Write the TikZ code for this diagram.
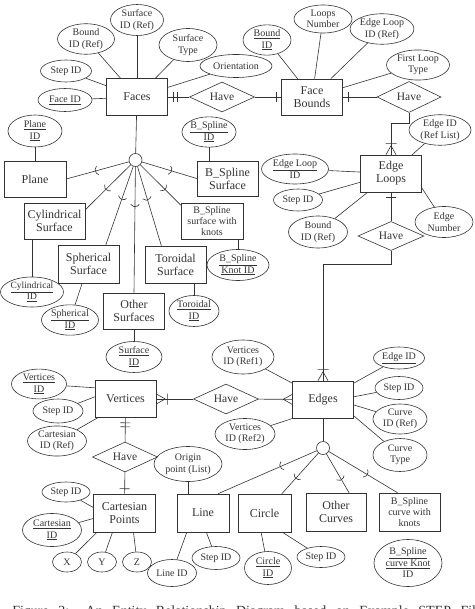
\documentclass[tikz,border=0pt]{standalone}
\usepackage{fontspec}
\setmainfont{Liberation Serif}
\usetikzlibrary{shapes.geometric,decorations.markings}

\begin{document}
\begin{tikzpicture}[x=1pt, y=-1pt, line width=.6pt, color=black!80,
	ent/.style={draw, rectangle, minimum width=61, minimum height=37, inner sep=1pt, align=center, font=\fontsize{12}{13}\selectfont},
	sment/.style={ent, font=\fontsize{10}{11}\selectfont},
	attr/.style={draw, ellipse, inner sep=.5pt, align=center, font=\fontsize{10}{11.5}\selectfont},
	rel/.style={draw, diamond, aspect=2.2, inner sep=0pt, minimum width=65, minimum height=30, font=\fontsize{11.5}{12}\selectfont},
	isacirc/.style={draw, circle, minimum size=13, inner sep=0pt},
	isa/.style={postaction={decorate, decoration={markings, mark=at position #1 with {\draw (-2.5pt,-4.33pt) arc[start angle=-60, end angle=60, radius=5pt];}}}},
	isa/.default=35pt,
	onebar/.style={postaction={decorate, decoration={markings, mark=at position .9999 with {\draw (-5pt,-5pt) -- (-5pt,5pt);}}}},
	twobar/.style={postaction={decorate, decoration={markings, mark=at position .9999 with {\draw (-5pt,-5pt) -- (-5pt,5pt) (-9pt,-5pt) -- (-9pt,5pt);}}}},
	manybar/.style={postaction={decorate, decoration={markings, mark=at position .9999 with {\draw (-9pt,0pt) -- (0pt,-5pt) (-9pt,0pt) -- (0pt,5pt) (-11pt,-5.5pt) -- (-11pt,5.5pt);}}}},
	crow/.style={postaction={decorate, decoration={markings, mark=at position .9999 with {\draw (-9pt,0pt) -- (0pt,-5pt) (-9pt,0pt) -- (0pt,5pt);}}}}
	]
	\useasboundingbox (0,0) rectangle (474,609);
	\clip (0,0) rectangle (474,609);
	%entities
	\node[ent] (faces) at (137,97) {Faces};
	\node[ent, minimum height=36] (fbounds) at (312,97) {Face\\Bounds};
	\node[ent] (el) at (391,173.5) {Edge\\Loops};
	\node[ent] (edges) at (323,399.5) {Edges};
	\node[ent] (vert) at (125.5,399) {Vertices};
	\node[ent, minimum width=62, minimum height=38] (cp) at (124.5,513) {Cartesian\\Points};
	\node[ent, minimum width=52, minimum height=38] (lineent) at (203,513) {Line};
	\node[ent, minimum width=53, minimum height=38] (circ) at (264.5,513) {Circle};
	\node[ent, minimum width=60, minimum height=38] (othc) at (336,512) {Other\\Curves};
	\node[sment, minimum height=38] (bsc) at (409.5,512) {B\_Spline\\curve with\\knots};
	\node[ent, minimum width=62, minimum height=36] (plane) at (35,179) {Plane};
	\node[ent, minimum height=36] (cyl) at (54.5,221) {Cylindrical\\Surface};
	\node[ent, minimum height=38] (sph) at (88.5,264) {Spherical\\Surface};
	\node[ent, minimum height=36] (oths) at (134,311) {Other\\Surfaces};
	\node[ent] (tor) at (175.5,264.5) {Toroidal\\Surface};
	\node[sment, minimum width=62, minimum height=36] (bsk) at (212,221) {B\_Spline\\surface with\\knots};
	\node[ent, minimum height=35] (bss) at (227.5,178.5) {B\_Spline\\Surface};
	%relations
	\node[rel] (have1) at (222,97) {Have};
	\node[rel, minimum width=64, minimum height=31] (have2) at (409,97) {Have};
	\node[rel, minimum width=66, minimum height=29] (have3) at (391,236) {Have};
	\node[rel] (have4) at (226,399) {Have};
	\node[rel] (have5) at (125,457) {Have};
	\node[isacirc] (fisa) at (135.5,160) {};
	\node[isacirc] (eisa) at (323,448) {};
	%attributes of faces and face bounds
	\node[attr, minimum width=53, minimum height=31] (surfref) at (137,20) {Surface\\ID (Ref)};
	\node[attr, minimum width=57, minimum height=30] (bndref) at (86,39) {Bound\\ID (Ref)};
	\node[attr, minimum width=58, minimum height=33] (surftype) at (188,45) {Surface\\Type};
	\node[attr, minimum width=51, minimum height=22] (fstep) at (66,71) {Step ID};
	\node[attr, minimum width=54, minimum height=23] (faceid) at (65,100) {\underline{Face ID}};
	\node[attr, minimum width=72, minimum height=23] (orient) at (236,66) {Orientation};
	\node[attr, minimum width=48, minimum height=30] (bndid) at (267,40) {\underline{Bound}\\\underline{ID}};
	\node[attr, minimum width=58, minimum height=28] (loopsnum) at (323,19) {Loops\\Number};
	\node[attr, minimum width=60, minimum height=30] (elref) at (382,29) {Edge Loop\\ID (Ref)};
	\node[attr, minimum width=63, minimum height=29] (firstloop) at (418,65) {First Loop\\Type};
	%attributes of edge loops
	\node[attr, minimum width=62, minimum height=30] (eidlist) at (440,130) {Edge ID\\(Ref List)};
	\node[attr, minimum width=67, minimum height=30] (elid) at (295,169) {\underline{Edge Loop}\\ID};
	\node[attr, minimum width=49, minimum height=22] (elstep) at (298,200) {Step ID};
	\node[attr, minimum width=59, minimum height=32] (elbnd) at (318,232) {Bound\\ID (Ref)};
	\node[attr, minimum width=58, minimum height=31] (enum) at (444,222) {Edge\\Number};
	%attributes of surfaces
	\node[attr, minimum width=54, minimum height=32] (planeid) at (35,131) {\underline{Plane}\\\underline{ID}};
	\node[attr, minimum width=54, minimum height=29] (bsid) at (209,132) {\underline{B\_Spline}\\\underline{ID}};
	\node[attr, minimum width=62, minimum height=31] (bkid) at (238,265) {\underline{B\_Spline}\\\underline{Knot ID}};
	\node[attr, minimum width=63, minimum height=30, font=\fontsize{9.5}{11}\selectfont] (cylid) at (32,292) {\underline{Cylindrical}\\\underline{ID}};
	\node[attr, minimum width=57, minimum height=28] (sphid) at (70,320) {\underline{Spherical}\\\underline{ID}};
	\node[attr, minimum width=50, minimum height=31] (torid) at (194,311) {\underline{Toroidal}\\\underline{ID}};
	\node[attr, minimum width=56, minimum height=31] (surfid) at (134,357) {\underline{Surface}\\\underline{ID}};
	%attributes of vertices and edges
	\node[attr, minimum width=55, minimum height=29] (vid) at (39,384) {\underline{Vertices}\\\underline{ID}};
	\node[attr, minimum width=50, minimum height=24] (vstep) at (58,411) {Step ID};
	\node[attr, minimum width=59, minimum height=30] (cartref) at (57,441) {Cartesian\\ID (Ref)};
	\node[attr, minimum width=62, minimum height=34] (vref1) at (243,357) {Vertices\\ID (Ref1)};
	\node[attr, minimum width=60, minimum height=31] (vref2) at (245,434) {Vertices\\ID (Ref2)};
	\node[attr, minimum width=51, minimum height=22] (eid) at (399,358) {\underline{Edge ID}};
	\node[attr, minimum width=48, minimum height=23] (estep) at (399,388) {Step ID};
	\node[attr, minimum width=54, minimum height=28] (curveref) at (400,419) {Curve\\ID (Ref)};
	\node[attr, minimum width=54, minimum height=33] (curvetype) at (400,455) {Curve\\Type};
	%attributes of points and curves
	\node[attr, minimum width=48, minimum height=20] (cpstep) at (66,492) {Step ID};
	\node[attr, minimum width=59, minimum height=33] (cartid) at (52,530) {\underline{Cartesian}\\\underline{ID}};
	\node[attr, minimum width=29, minimum height=20] (cx) at (67,562) {X};
	\node[attr, minimum width=29, minimum height=20] (cy) at (102,562) {Y};
	\node[attr, minimum width=29, minimum height=20] (cz) at (137,562) {Z};
	\node[attr, minimum width=68, minimum height=35] (orig) at (188,464) {Origin\\point (List)};
	\node[attr, minimum width=49, minimum height=27] (lineid) at (172,573) {Line ID};
	\node[attr, minimum width=48, minimum height=23] (lstep) at (216,558) {Step ID};
	\node[attr, minimum width=47, minimum height=33] (circid) at (268,568) {\underline{Circle}\\\underline{ID}};
	\node[attr, minimum width=48, minimum height=21] (cstep) at (321,557) {Step ID};
	\node[attr, minimum width=68, minimum height=47] (bckid) at (408,563) {\underline{B\_Spline}\\\underline{curve Knot}\\ID};
	%relation links
	\draw[twobar] (have1) -- (faces);
	\draw[onebar] (have1) -- (fbounds);
	\draw[onebar] (have2) -- (fbounds);
	\draw[manybar] (have2.south) -- ++(0,11) -| (el.north);
	\draw[onebar] (have3) -- (el);
	\draw[manybar] (have3.south) -- ++(0,13) -| (edges.north);
	\draw[crow] (have4) -- (edges);
	\draw[manybar] (have4) -- (vert);
	\draw[twobar] (have5) -- (vert);
	\draw[onebar] (have5) -- (cp);
	%isa links
	\draw (faces) -- (fisa);
	\draw[isa] (fisa) -- (plane.east);
	\draw[isa] (fisa) -- (cyl.20);
	\draw[isa] (fisa) -- (sph.48);
	\draw[isa=40pt] (fisa) -- (oths.north);
	\draw[isa] (fisa) -- (tor.127);
	\draw[isa] (fisa) -- (bsk.153);
	\draw[isa=31pt] (fisa) -- (bss.west);
	\draw (edges) -- (eisa);
	\draw[isa=40pt] (eisa) -- (lineent.52);
	\draw[isa=34pt] (eisa) -- (circ.48);
	\draw[isa=30pt] (eisa) -- (othc.56);
	\draw[isa=45pt] (eisa) -- (bsc.122);
	%attribute links
	\draw (surfref) -- (faces);
	\draw (bndref) -- (faces);
	\draw (surftype) -- (faces);
	\draw (fstep) -- (faces);
	\draw (faceid) -- (faces);
	\draw (orient) -- (faces);
	\draw (bndid) -- (fbounds);
	\draw (loopsnum) -- (fbounds);
	\draw (elref) -- (fbounds);
	\draw (firstloop) -- (fbounds);
	\draw (eidlist) -- (el);
	\draw (elid) -- (el);
	\draw (elstep) -- (el);
	\draw (elbnd) -- (el);
	\draw (el.-25) -- (enum);
	\draw (planeid) -- (plane);
	\draw (bsid) -- (bsid |- bss.north);
	\draw (bkid) -- (bkid |- bsk.south);
	\draw (cylid) -- (cylid |- cyl.south);
	\draw (sphid) -- (sph);
	\draw (torid) -- (torid |- tor.south);
	\draw (surfid) -- (oths);
	\draw (vid) -- (vert.160);
	\draw (vstep) -- (vert.176);
	\draw (cartref) -- (vert.-146);
	\draw (vref1) -- (edges.152);
	\draw (vref2) -- (edges.-148);
	\draw (eid) -- (edges.28);
	\draw (estep) -- (edges.5);
	\draw (curveref) -- (edges.-10);
	\draw (curvetype) -- (edges.-28);
	\draw (cpstep) -- (cp.170);
	\draw (cartid) -- (cp.-170);
	\draw (cx) -- (cp.-145);
	\draw (cy) -- (cp.-122);
	\draw (cz) -- (cp.-65);
	\draw (orig) -- (orig |- lineent.north);
	\draw (lineid) -- (lineent.-130);
	\draw (lstep) -- (lineent.-80);
	\draw (circid) -- (circ.-100);
	\draw (cstep) -- (circ.-47);
	%caption
	\node[anchor=base west, inner sep=0pt, font=\fontsize{14}{16}\selectfont] (caption) at (12,615) {\makebox[470pt][s]{Figure 3: An Entity Relationship Diagram based on Example STEP File}};
\end{tikzpicture}
\end{document}
